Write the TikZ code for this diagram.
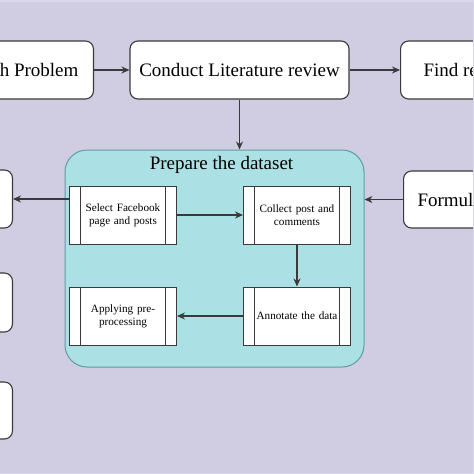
\documentclass[tikz,border=0pt]{standalone}
\usepackage{fontspec}
\setmainfont{Liberation Serif}
\usetikzlibrary{arrows.meta,calc}
\definecolor{bgc}{HTML}{D0CDE3}
\definecolor{bgl}{HTML}{DAD7EC}
\definecolor{cont}{HTML}{ABE1E5}
\definecolor{contb}{HTML}{5B9EA3}
\definecolor{boxb}{HTML}{3A3A3A}
\tikzset{
  mainbox/.style={draw=boxb, line width=1.1pt, fill=white, rounded corners=8pt,
    minimum height=58pt, font=\fontsize{19}{22}\selectfont, inner ysep=0pt},
  container/.style={draw=contb, line width=1pt, fill=cont, rounded corners=22pt},
  procbox/.style={draw=boxb, line width=1pt, fill=white, minimum width=107pt,
    minimum height=58pt, inner sep=0pt, align=center, text width=84pt,
    font=\fontsize{11.2}{13.3}\selectfont,
    path picture={
      \draw[line width=1pt, boxb] ([xshift=11pt]path picture bounding box.north west) -- ([xshift=11pt]path picture bounding box.south west);
      \draw[line width=1pt, boxb] ([xshift=-11pt]path picture bounding box.north east) -- ([xshift=-11pt]path picture bounding box.south east);
    }},
  arr/.style={draw=boxb, line width=1.1pt, -{Stealth[length=8pt,width=7pt]}},
}
\begin{document}
\begin{tikzpicture}[x=1pt,y=-1pt]
\useasboundingbox (0,0) rectangle (474,474);
\fill[bgc] (0,0) rectangle (474,474);
\clip (0,0) rectangle (474,474);
% top row
\node[mainbox, anchor=east, inner xsep=15pt] (prob) at (94,70) {h Problem};
\node[mainbox, minimum width=219pt] (lit) at (239.5,70) {Conduct Literature review};
\node[mainbox, anchor=west, inner xsep=23pt] (find) at (400,70) {Find re};
% right box
\node[mainbox, anchor=west, inner xsep=14pt, minimum height=57pt] (form) at (403,199.5) {Formul};
% left boxes
\node[mainbox, anchor=east, minimum width=80pt, minimum height=58pt] (l1) at (13,199) {};
\node[mainbox, anchor=east, minimum width=80pt, minimum height=59pt] (l2) at (13,302.5) {};
\node[mainbox, anchor=east, minimum width=80pt, minimum height=57pt] (l3) at (13,410.5) {};
% container
\node[container, minimum width=299pt, minimum height=217pt] (prep) at (214.5,258.5) {};
\node[font=\fontsize{19}{22}\selectfont, inner sep=0pt] (title) at (221.5,165) {Prepare the dataset};
% process boxes
\node[procbox] (sel) at (123,215) {Select Facebook\\page and posts};
\node[procbox] (col) at (297,215) {Collect post and\\comments};
\node[procbox] (app) at (123,316) {Applying pre-\\processing};
\node[procbox] (ann) at (297,316) {Annotate the data};
% connectors
\draw[arr] (prob.east) -- (lit.west);
\draw[arr] (lit.east) -- (find.west);
\draw[arr] (lit.south) -- (lit.south |- prep.north);
\draw[arr] (sel.east) -- (col.west);
\draw[arr] (col.south) -- (ann.north);
\draw[arr] (ann.west) -- (app.east);
\draw[arr] (sel.west |- l1.east) -- (l1.east);
\draw[arr] (form.west) -- (form.west -| prep.east);
% light frame
\draw[bgl, line width=3pt] (0,0) -- (474,0) -- (474,474) -- (0,474);
\end{tikzpicture}
\end{document}
